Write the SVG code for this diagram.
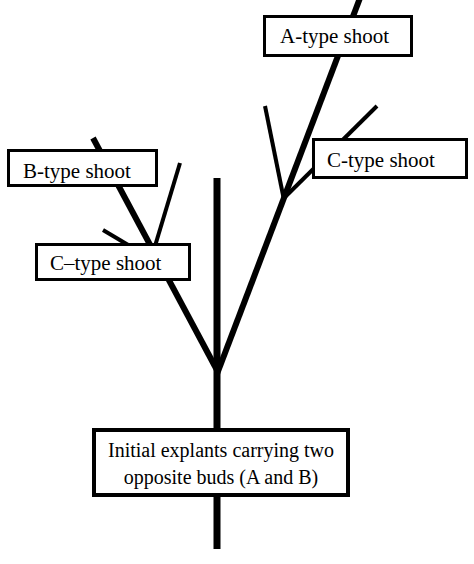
<svg xmlns="http://www.w3.org/2000/svg" width="474" height="564" viewBox="0 0 474 564">
<style>
.box{fill:#fff;stroke:#000;stroke-width:3}
.lbl{font-family:"Liberation Serif","Times New Roman",serif;font-size:21px;fill:#000}
.main{font-family:"Liberation Serif","Times New Roman",serif;font-size:20px;fill:#000;text-anchor:middle}
.thick{stroke:#000;stroke-width:6;fill:none}
.thin{stroke:#000;stroke-width:4;fill:none}
</style>
<rect width="474" height="564" fill="#fff"/>
<g id="connectors">
<line class="thick" x1="217" y1="178" x2="217" y2="549" style="stroke-width:7"/>
<line class="thick" x1="93" y1="138" x2="218" y2="372"/>
<line class="thick" x1="360" y1="-2" x2="217" y2="374"/>
<line class="thin" x1="284" y1="200" x2="265" y2="106"/>
<line class="thin" x1="283" y1="199" x2="377" y2="106"/>
<line class="thin" x1="180" y1="163" x2="152" y2="256"/>
<line class="thin" x1="103" y1="230" x2="140" y2="252"/>
</g>
<g id="a-type">
<rect class="box" x="264.5" y="16.5" width="147" height="39"/>
<text class="lbl" x="280" y="43">A-type shoot</text>
</g>
<g id="c-type-right">
<rect class="box" x="313.5" y="139.5" width="153" height="38"/>
<text class="lbl" x="327" y="167">C-type shoot</text>
</g>
<g id="b-type">
<rect class="box" x="8.5" y="150.5" width="148" height="35"/>
<text class="lbl" x="23" y="178">B-type shoot</text>
</g>
<g id="c-type-left">
<rect class="box" x="36.5" y="244.5" width="153" height="35"/>
<text class="lbl" x="50" y="270">C–type shoot</text>
</g>
<g id="explants">
<rect class="box" x="94" y="430" width="254" height="65" style="stroke-width:4"/>
<text class="main" x="221" y="457">Initial explants carrying two</text>
<text class="main" x="221" y="484">opposite buds (A and B)</text>
</g>
</svg>
